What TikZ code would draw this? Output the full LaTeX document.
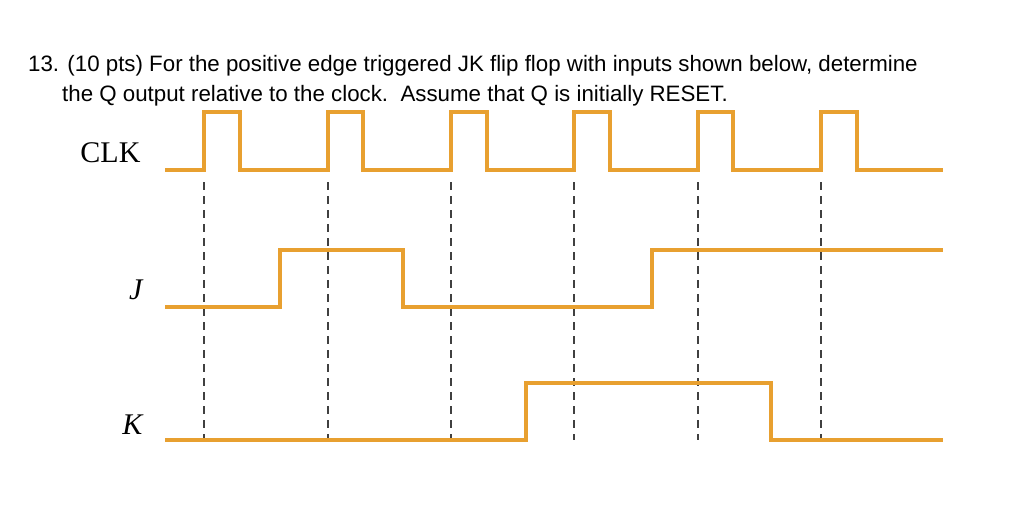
\documentclass[tikz,border=0pt]{standalone}
\usepackage{fontspec}
\setmainfont{Liberation Serif}
\newfontfamily\arial{Liberation Sans}
\definecolor{wave}{HTML}{E8A030}
\begin{document}
\begin{tikzpicture}[x=1pt,y=-1pt,
  wv/.style={draw=wave,line width=3.2pt,line join=miter},
  dl/.style={draw=black!75,line width=1.3pt,dash pattern=on 8pt off 6pt},
  lbl/.style={font=\fontsize{30}{30}\selectfont,anchor=east}]
\useasboundingbox (0,0) rectangle (1024,508);
\node[anchor=base west,font=\arial\fontsize{22.3}{23}\selectfont,inner sep=0] (t1) at (28,72) {13. (10 pts) For the positive edge triggered JK flip flop with inputs shown below, determine};
\node[anchor=base west,font=\arial\fontsize{22.3}{23}\selectfont,inner sep=0] (t2) at (62,102) {the Q output relative to the clock.\ \ Assume that Q is initially RESET.};
\node[lbl] (clk) at (144,153) {CLK};
\node[lbl] (j) at (146,290) {\itshape J};
\node[lbl] (k) at (146,425) {\itshape K};
\foreach \x in {204,328,451,574,698,821}
  \draw[dl] (\x,182) -- (\x,440);
\draw[wv] (165,170) -- (204,170)
  \foreach \r/\f/\n in {204/240/328,328/363/451,451/487/574,574/610/698,698/733/821,821/857/943}
  { -- (\r,112) -- (\f,112) -- (\f,170) -- (\n,170) };
\draw[wv] (165,307) -- (280,307) -- (280,250) -- (403,250) -- (403,307) -- (652,307) -- (652,250) -- (943,250);
\draw[wv] (165,440) -- (526,440) -- (526,383) -- (771,383) -- (771,440) -- (943,440);
\end{tikzpicture}
\end{document}
